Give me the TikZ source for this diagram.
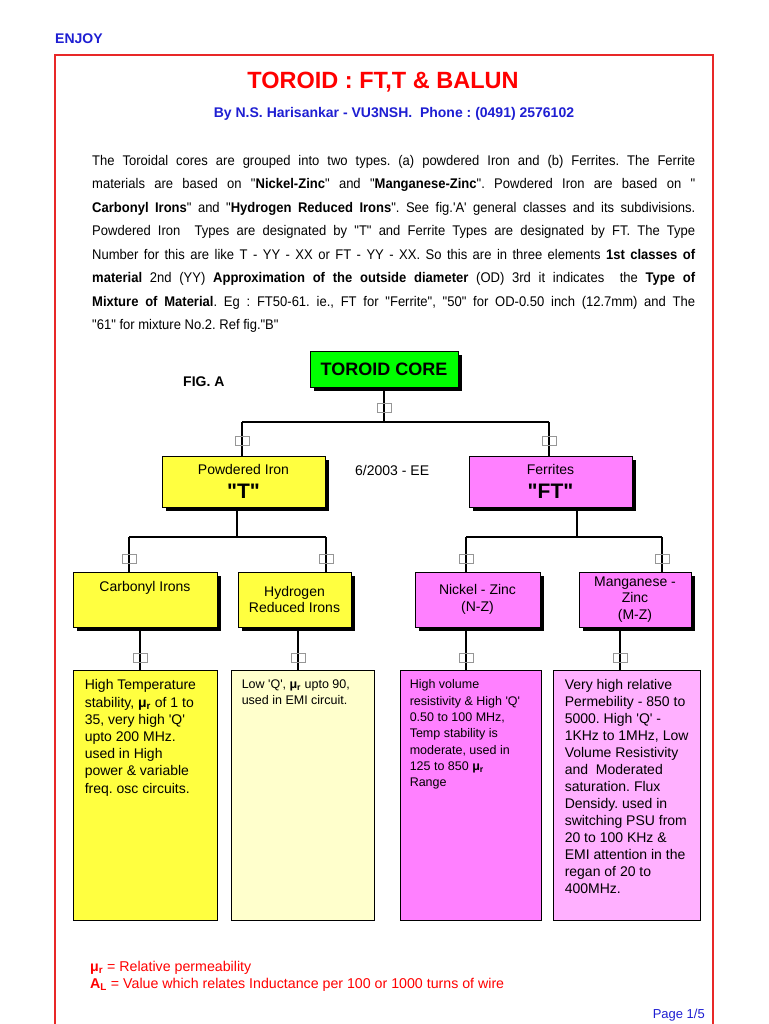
\documentclass[tikz,border=0pt]{standalone}
\usepackage{fontspec}
\setmainfont{Liberation Sans}[Ligatures=TeXOff]
\newfontfamily\narrowfont{Liberation Sans}[FakeStretch=0.93,Ligatures=TeXOff]
\usepackage{tikz}
\usetikzlibrary{positioning, shadows}
\definecolor{framered}{RGB}{232, 40, 40}
\definecolor{titlered}{RGB}{255, 0, 0}
\definecolor{headblue}{RGB}{30, 30, 210}
\definecolor{coregreen}{RGB}{0, 255, 0}
\definecolor{ironyellow}{RGB}{255, 255, 64}
\definecolor{paleyellow}{RGB}{255, 255, 204}
\definecolor{ferritepink}{RGB}{255, 128, 255}
\definecolor{palepink}{RGB}{255, 176, 255}
\definecolor{handlegray}{RGB}{150, 150, 150}
\newcommand{\mur}{\textbf{μ\textsubscript{r}}}

\begin{document}
\frenchspacing
\begin{tikzpicture}[x=1pt, y=-1pt,
    class/.style={draw=black, line width=0.9pt, fill=#1, inner sep=4pt, align=center,
                  drop shadow={shadow xshift=4pt, shadow yshift=-4pt, opacity=1, fill=black},
                  font=\fontsize{14}{16.5}\selectfont},
    infobox/.style={draw=black, line width=0.9pt, fill=#1, minimum height=250pt, inner sep=0pt},
    infotext/.style={anchor=north west, inner sep=0pt, align=left},
    handle/.style={draw=handlegray, line width=0.8pt, minimum width=14pt, minimum height=9pt, inner sep=0pt},
    link/.style={line width=1.2pt},
    stem/.style={line width=2pt}
]
    \useasboundingbox (0,0) rectangle (768,1024);

    % page frame and header
    \draw[framered, line width=1.5pt] (55,1024) -- (55,55) -- (713,55) -- (713,1024);
    \node[anchor=base west, inner sep=0pt, text=headblue, font=\bfseries\fontsize{14}{16}\selectfont] (enjoy) at (55,44) {ENJOY};
    \node[anchor=base, inner sep=0pt, text=titlered, font=\bfseries\fontsize{23.5}{26}\selectfont] (title) at (383,88.5) {TOROID : FT,T \& BALUN};
    \node[anchor=base, inner sep=0pt, text=headblue, font=\bfseries\fontsize{14}{16}\selectfont] (author) at (394,118) {By N.S. Harisankar - VU3NSH.~ Phone : (0491) 2576102};

    \node[anchor=north west, inner sep=0pt, text width=603pt, align=justify,
          font=\narrowfont\fontsize{14}{23.5}\selectfont] (intro) at (92,155)
        {The Toroidal cores are grouped into two types. (a) powdered Iron and (b) Ferrites. The Ferrite\linebreak
         materials are based on "\textbf{Nickel-Zinc}" and "\textbf{Manganese-Zinc}". Powdered Iron are based on "\linebreak
         \textbf{Carbonyl Irons}" and "\textbf{Hydrogen Reduced Irons}". See fig.'A' general classes and its subdivisions.\linebreak
         Powdered Iron~ Types are designated by "T" and Ferrite Types are designated by FT. The Type\linebreak
         Number for this are like T - YY - XX or FT - YY - XX. So this are in three elements \textbf{1st classes of}\linebreak
         \textbf{material} 2nd (YY) \textbf{Approximation of the outside diameter} (OD) 3rd it indicates~ the \textbf{Type of}\linebreak
         \textbf{Mixture of Material}. Eg : FT50-61. ie., FT for "Ferrite", "50" for OD-0.50 inch (12.7mm) and The\linebreak
         "61" for mixture No.2. Ref fig."B"};

    % fig. A tree
    \node[anchor=base west, inner sep=0pt, font=\bfseries\fontsize{14}{16}\selectfont] (figa) at (183,386) {FIG. A};
    \node[class=coregreen, minimum width=148pt, minimum height=36pt, font=\bfseries\fontsize{18}{20}\selectfont] (core) at (384,369) {TOROID CORE};
    \node[class=ironyellow, minimum width=163pt, minimum height=51pt] (iron) at (243.5,481.5)
        {Powdered Iron\\[7pt]{\bfseries\fontsize{21}{21}\selectfont "T"}};
    \node[class=ferritepink, minimum width=163pt, minimum height=51pt] (ferrite) at (550.5,481.5)
        {Ferrites\\[7pt]{\bfseries\fontsize{21}{21}\selectfont "FT"}};
    \node[anchor=base west, inner sep=0pt, font=\fontsize{14}{16}\selectfont] (date) at (355,475) {6/2003 - EE};

    \node[class=ironyellow, minimum width=144pt, minimum height=55pt, align=left,
          text height=15pt, text depth=31.5pt] (carb) at (145,599.5) {Carbonyl Irons};
    \node[class=ironyellow, minimum width=113pt, minimum height=55pt] (hydro) at (294.5,599.5) {Hydrogen\\Reduced Irons};
    \node[class=ferritepink, minimum width=125pt, minimum height=55pt] (nickel) at (477.5,599.5) {Nickel - Zinc\\(N-Z)};
    \node[class=ferritepink, minimum width=112pt, minimum height=55pt] (mang) at (635,599.5) {Manganese -\\Zinc\\(M-Z)};

    \node[infobox=ironyellow, minimum width=144pt] (d1) at (145,795) {};
    \node[infobox=paleyellow, minimum width=143pt] (d2) at (302.5,795) {};
    \node[infobox=ferritepink, minimum width=141pt] (d3) at (470.5,795) {};
    \node[infobox=palepink, minimum width=147pt] (d4) at (626.5,795) {};

    \node[infotext, font=\fontsize{14}{17.2}\selectfont] (d1txt) at ([shift={(12,10)}]d1.north west)
        {High Temperature\\stability, \mur\ of 1 to\\35, very high 'Q'\\upto 200 MHz.\\used in High\\power \& variable\\freq. osc circuits.};
    \node[infotext, font=\fontsize{12.5}{16}\selectfont] (d2txt) at ([shift={(11,10)}]d2.north west)
        {Low 'Q', \mur\ upto 90,\\used in EMI circuit.};
    \node[infotext, font=\fontsize{12.5}{16.3}\selectfont] (d3txt) at ([shift={(10,10)}]d3.north west)
        {High volume\\resistivity \& High 'Q'\\0.50 to 100 MHz,\\Temp stability is\\moderate, used in\\125 to 850 \mur\\Range};
    \node[infotext, font=\fontsize{14}{17}\selectfont] (d4txt) at ([shift={(12,10)}]d4.north west)
        {Very high relative\\Permebility - 850 to\\5000. High 'Q' -\\1KHz to 1MHz, Low\\Volume Resistivity\\and~ Moderated\\saturation. Flux\\Densidy. used in\\switching PSU from\\20 to 100 KHz \&\\EMI attention in the\\regan of 20 to\\400MHz.};

    % connectors
    \coordinate (tl) at (242,422);
    \coordinate (tr) at (549,422);
    \draw[stem] (core.south) -- (core.south |- tl);
    \draw[link] (tl) -- (tr);
    \draw[link] (tl) -- (tl |- iron.north);
    \draw[link] (tr) -- (tr |- ferrite.north);

    \coordinate (lm) at (237,537);
    \coordinate (ll) at (129,537);
    \coordinate (lr) at (326,537);
    \coordinate (rm) at (577,537);
    \coordinate (rl) at (466,537);
    \coordinate (rr) at (662,537);
    \draw[stem] (lm |- iron.south) -- (lm);
    \draw[stem] (rm |- ferrite.south) -- (rm);
    \draw[link] (ll) -- (lr);
    \draw[link] (rl) -- (rr);
    \draw[link] (ll) -- (ll |- carb.north);
    \draw[link] (lr) -- (lr |- hydro.north);
    \draw[link] (rl) -- (rl |- nickel.north);
    \draw[link] (rr) -- (rr |- mang.north);

    \coordinate (s1) at (140,658);
    \coordinate (s2) at (298,658);
    \coordinate (s3) at (466,658);
    \coordinate (s4) at (620,658);
    \draw[stem] (s1 |- carb.south) -- (s1 |- d1.north);
    \draw[link] (s2 |- hydro.south) -- (s2 |- d2.north);
    \draw[stem] (s3 |- nickel.south) -- (s3 |- d3.north);
    \draw[stem] (s4 |- mang.south) -- (s4 |- d4.north);

    % handles
    \node[handle] (h0) at (384,408) {};
    \node[handle] (hl) at (242,441) {};
    \node[handle] (hr) at (549,441) {};
    \foreach \hx/\hn in {129/a, 326/b, 466/c, 662/d}
        \node[handle] (u\hn) at (\hx,559) {};
    \foreach \hc/\hn in {s1/a, s2/b, s3/c, s4/d}
        \node[handle] (w\hn) at (\hc) {};

    % footer
    \node[anchor=base west, inner sep=0pt, align=left, text=titlered,
          font=\fontsize{14.2}{17}\selectfont] (legend) at (90,988)
        {\mur\ = Relative permeability\\\textbf{A\textsubscript{L}} = Value which relates Inductance per 100 or 1000 turns of wire};
    \node[anchor=base east, inner sep=0pt, text=headblue, font=\fontsize{13}{15}\selectfont] (page) at (705,1018) {Page 1/5};
\end{tikzpicture}
\end{document}
